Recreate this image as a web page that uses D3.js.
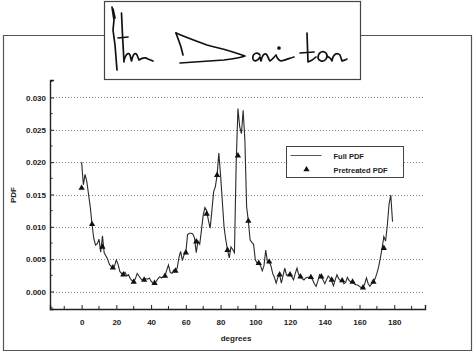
<!DOCTYPE html>
<html lang="en">

<head>
    <meta charset="UTF-8">
    <title>PDF vs degrees</title>
    <style>
        html,
        body {
            padding: 0;
            margin: 0;
            height: 100%;
            overflow: hidden;
            background: #fff;
        }

        text {
            font-family: "Liberation Sans", Arial, sans-serif;
            fill: #222;
        }
    </style>
</head>

<body>

    <script src="https://cdn.jsdelivr.net/npm/d3@7"></script>
    <script>

        // full PDF, one value per degree (0 .. 179)
        const fullDegrees = d3.range(0, 180)
        const fullValues = [
            0.0200, 0.0165, 0.0181, 0.0170, 0.0150, 0.0130, 0.0104, 0.0082, 0.0072, 0.0074,
            0.0081, 0.0061, 0.0086, 0.0060, 0.0055, 0.0050, 0.0042, 0.0039, 0.0037, 0.0040,
            0.0049, 0.0042, 0.0031, 0.0028, 0.0027, 0.0030, 0.0024, 0.0026, 0.0020, 0.0017,
            0.0015, 0.0020, 0.0028, 0.0024, 0.0020, 0.0018, 0.0018, 0.0020, 0.0019, 0.0021,
            0.0016, 0.0013, 0.0012, 0.0016, 0.0020, 0.0023, 0.0021, 0.0023, 0.0024, 0.0033,
            0.0041, 0.0030, 0.0028, 0.0033, 0.0032, 0.0036, 0.0052, 0.0062, 0.0048, 0.0057,
            0.0060, 0.0088, 0.0090, 0.0090, 0.0089, 0.0083, 0.0060, 0.0078, 0.0073, 0.0095,
            0.0118, 0.0130, 0.0125, 0.0110, 0.0098, 0.0125, 0.0154, 0.0162, 0.0180, 0.0214,
            0.0180, 0.0140, 0.0100, 0.0080, 0.0064, 0.0052, 0.0069, 0.0065, 0.0060, 0.0200,
            0.0283, 0.0255, 0.0244, 0.0280, 0.0234, 0.0131, 0.0109, 0.0080, 0.0076, 0.0073,
            0.0049, 0.0044, 0.0044, 0.0040, 0.0032, 0.0040, 0.0064, 0.0046, 0.0046, 0.0040,
            0.0028, 0.0022, 0.0013, 0.0022, 0.0026, 0.0013, 0.0025, 0.0036, 0.0025, 0.0026,
            0.0028, 0.0023, 0.0018, 0.0028, 0.0036, 0.0026, 0.0023, 0.0020, 0.0018, 0.0021,
            0.0022, 0.0022, 0.0022, 0.0018, 0.0012, 0.0008, 0.0016, 0.0026, 0.0023, 0.0018,
            0.0012, 0.0018, 0.0024, 0.0021, 0.0016, 0.0009, 0.0018, 0.0026, 0.0020, 0.0017,
            0.0017, 0.0012, 0.0014, 0.0022, 0.0017, 0.0015, 0.0015, 0.0012, 0.0010, 0.0010,
            0.0008, 0.0006, 0.0006, 0.0012, 0.0021, 0.0012, 0.0008, 0.0012, 0.0015, 0.0020,
            0.0028, 0.0038, 0.0052, 0.0067, 0.0085, 0.0078, 0.0102, 0.0135, 0.0149, 0.0108
        ]

        // pretreated PDF, every 6 degrees
        const pretreatedDegrees = [
            0, 6, 12, 18, 24, 30, 36, 42, 48, 54, 60, 66, 72, 78, 84,
            90, 96, 102, 108, 114, 120, 126, 132, 138, 144, 150, 156, 162, 168, 174
        ]
        const pretreatedValues = [
            0.0160, 0.0104, 0.0069, 0.0037, 0.0026, 0.0015, 0.0018, 0.0013, 0.0024, 0.0032,
            0.0060, 0.0077, 0.0120, 0.0180, 0.0064, 0.0210, 0.0109, 0.0044, 0.0046, 0.0026,
            0.0026, 0.0023, 0.0022, 0.0023, 0.0018, 0.0017, 0.0015, 0.0006, 0.0015, 0.0067
        ]

        const xTickLabels = [0, 20, 40, 60, 80, 100, 120, 140, 160, 180]
        const yTickLabels = [0.000, 0.005, 0.010, 0.015, 0.020, 0.025, 0.030]
        const seriesNames = ['Full PDF', 'Pretreated PDF']

        const width = 474
        const height = 355

        const svg = d3.select('body')
            .append('svg')
            .attr('width', width)
            .attr('height', height)

        // outer frame (broken by the signature box)
        svg.append('path')
            .attr('d', 'M104,35.5 H3.5 V350.5 H471.5 V35.5 H361')
            .attr('fill', 'none')
            .attr('stroke', '#555')
            .attr('stroke-width', 1.2)

        // signature box
        svg.append('rect')
            .attr('x', 104.5).attr('y', 1.5)
            .attr('width', 256).attr('height', 78)
            .attr('fill', '#fff')
            .attr('stroke', '#444')
            .attr('stroke-width', 1.2)

        const sig = svg.append('g')
            .attr('fill', 'none')
            .attr('stroke', '#111')
            .attr('stroke-width', 1.7)
            .attr('stroke-linecap', 'round')
            .attr('stroke-linejoin', 'round')
        const sigStrokes = [
            'M112,7 L114,20 L113,30 L115,45 L117,70',
            'M113,9 L115,18',
            'M121.5,13 L122.5,35 L124,62',
            'M118,38 L128,37',
            'M124,60 C126,54 128,52 130,55 L131.5,61 C133,54 135,52 137,55 L139,60 C142,58 145,57 148,59 L153,61',
            'M176,33 L181,47 L183,55',
            'M176,33 C185,37 196,41 207,45 C218,48 228,50 236,53 L245,56 C240,58 232,59 224,60 C210,61 195,62 180,63',
            'M260,55 C257,51 252,54 253,59 C254,62 258,61 260,57 L261,61 C262,56 264,53 266,54 C268,55 268,59 270,61 C272,60 274,57 276,55 C277,58 278,60 281,61 C286,60 290,58 294,57',
            'M307,33 L307.5,48 L308,62 C311,61 314,59 316,57',
            'M300,53 L314,52',
            'M318,58 C318,52 323,50 326,53 C329,57 325,62 321,61 C319,60 318,59 318,58',
            'M327,56 C329,57 331,58 332,61 C333,54 337,52 340,55 L342,61 C344,60 346,60 347,59'
        ]
        sig.selectAll('.stroke')
            .data(sigStrokes)
            .enter()
            .append('path')
            .attr('class', 'stroke')
            .attr('d', (d) => d)
        sig.append('circle')
            .attr('cx', 279).attr('cy', 48).attr('r', 1)
            .attr('fill', '#111')

        // scales
        const x = d3.scaleLinear()
            .domain([-18.2, 197.7])
            .range([50, 425])

        const y = d3.scaleLinear()
            .domain([-0.0027, 0.0327])
            .range([309, 80])

        // grid
        svg.append('g')
            .selectAll('line')
            .data(yTickLabels)
            .enter()
            .append('line')
            .attr('x1', x.range()[0] + 3)
            .attr('x2', x.range()[1])
            .attr('y1', (d) => Math.round(y(d)) + 0.5)
            .attr('y2', (d) => Math.round(y(d)) + 0.5)
            .attr('stroke', '#8a8a8a')
            .attr('stroke-width', 1)
            .attr('stroke-dasharray', '1, 2')

        // x axis
        const xAxis = svg.append('g')
            .attr('transform', `translate(0, ${y.range()[0]})`)
            .call(d3.axisBottom(x)
                .tickValues(xTickLabels)
                .tickSize(-4)
                .tickPadding(10)
                .tickFormat(d3.format('d')))
        xAxis.append('g')
            .selectAll('line')
            .data(d3.range(-10, 200, 20))
            .enter()
            .append('line')
            .attr('x1', (d) => x(d)).attr('x2', (d) => x(d))
            .attr('y1', 0).attr('y2', -3)
            .attr('stroke', '#222')
        xAxis.selectAll('path.domain').attr('stroke', '#222').attr('stroke-width', 1.4)
        xAxis.selectAll('.tick line').attr('stroke', '#222')
        xAxis.selectAll('text')
            .attr('font-size', 8)
            .attr('font-weight', 'bold')
            .attr('fill', '#222')

        // y axis
        const yAxis = svg.append('g')
            .attr('transform', `translate(${x.range()[0]}, 0)`)
            .call(d3.axisLeft(y)
                .tickValues(yTickLabels)
                .tickSize(-4)
                .tickPadding(4)
                .tickFormat(d3.format('.3f')))
        yAxis.append('g')
            .selectAll('line')
            .data(d3.range(-0.0025, 0.033, 0.005))
            .enter()
            .append('line')
            .attr('x1', 0).attr('x2', 2.5)
            .attr('y1', (d) => y(d)).attr('y2', (d) => y(d))
            .attr('stroke', '#222')
        yAxis.selectAll('path.domain').attr('stroke', '#222').attr('stroke-width', 1.4)
        yAxis.selectAll('.tick line').attr('stroke', '#222')
        yAxis.selectAll('text')
            .attr('font-size', 8)
            .attr('font-weight', 'bold')
            .attr('fill', '#333')

        // axis titles
        svg.append('text')
            .attr('x', 236).attr('y', 341)
            .attr('text-anchor', 'middle')
            .attr('font-size', 8)
            .attr('font-weight', 'bold')
            .text('degrees')

        svg.append('text')
            .attr('transform', 'translate(16, 195) rotate(-90)')
            .attr('text-anchor', 'middle')
            .attr('font-size', 8)
            .attr('font-weight', 'bold')
            .text('PDF')

        // full PDF line
        const line = d3.line()
            .x((d, i) => x(fullDegrees[i]))
            .y((d) => y(d))

        svg.append('path')
            .datum(fullValues)
            .attr('fill', 'none')
            .attr('stroke', '#2a2a2a')
            .attr('stroke-width', 1.1)
            .attr('d', line)

        // pretreated triangles
        const tri = d3.symbol().type(d3.symbolTriangle).size(17)
        svg.selectAll('.tri')
            .data(pretreatedValues)
            .enter()
            .append('path')
            .attr('class', 'tri')
            .attr('transform', (d, i) => `translate(${x(pretreatedDegrees[i])}, ${y(d)})`)
            .attr('d', tri)
            .attr('fill', '#111')

        // legend
        const legend = svg.append('g')
            .attr('transform', 'translate(286.5, 146.5)')
        legend.append('rect')
            .attr('width', 117).attr('height', 31)
            .attr('fill', '#fff')
            .attr('stroke', '#444')
        legend.append('line')
            .attr('x1', 4).attr('x2', 35)
            .attr('y1', 9).attr('y2', 9)
            .attr('stroke', '#555')
        legend.append('path')
            .attr('transform', 'translate(20, 23)')
            .attr('d', tri)
            .attr('fill', '#111')
        legend.selectAll('.label')
            .data(seriesNames)
            .enter()
            .append('text')
            .attr('class', 'label')
            .attr('x', 47)
            .attr('y', (d, i) => 12 + i * 14)
            .attr('font-size', 7.5)
            .attr('font-weight', 'bold')
            .text((d) => d)

    </script>
</body>

</html>
